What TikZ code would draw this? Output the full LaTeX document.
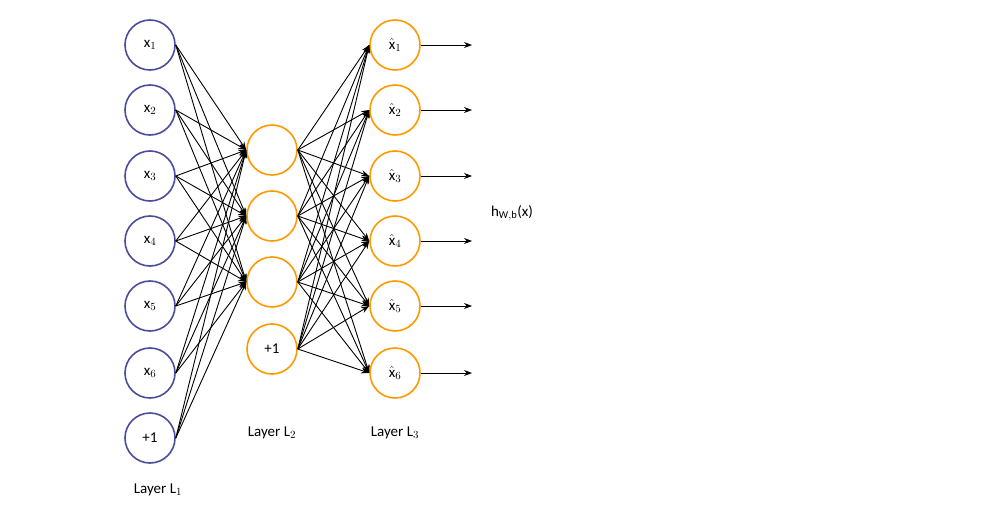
\documentclass[tikz,border=0pt]{standalone}
\usepackage{fontspec}
\setmainfont{Carlito}
\usetikzlibrary{arrows.meta}
\begin{document}
\begin{tikzpicture}[x=1pt,y=-1pt,
  inn/.style={circle,draw=blue!45!black!70,line width=1.6pt,minimum size=50pt,inner sep=0pt,font=\fontsize{15}{17}\selectfont},
  hid/.style={circle,draw=orange!80!yellow,line width=1.6pt,minimum size=50pt,inner sep=0pt,font=\fontsize{15}{17}\selectfont},
  con/.style={-{Stealth[length=8pt,width=6pt]},line width=0.9pt},
  lab/.style={font=\fontsize{15}{17}\selectfont}]
\useasboundingbox (0,0) rectangle (982,524);
\foreach \i/\y in {1/45,2/110,3/176,4/241,5/306,6/373}
  \node[inn] (a\i) at (150,\y) {x$_{\i}$};
\node[inn] (a7) at (150,438) {+1};
\foreach \i/\y in {1/150,2/216,3/282}
  \node[hid] (b\i) at (272,\y) {};
\node[hid] (b4) at (272,349) {+1};
\foreach \i/\y in {1/45,2/110,3/176,4/241,5/306,6/373}{
  \node[hid] (c\i) at (395,\y) {$\hat{\mathrm{x}}_{\i}$};
  \coordinate (o\i) at (472,\y);
  \draw[con] (c\i) -- (o\i);}
\foreach \i in {1,...,7}
  \foreach \j in {1,2,3}
    \draw[con] (a\i.east) -- (b\j.west);
\foreach \i in {1,...,4}
  \foreach \j in {1,...,6}
    \draw[con] (b\i.east) -- (c\j.west);
\node[lab] (h) at (512,213) {h$_{\mathrm{W,b}}$(x)};
\node[lab] (l1) at (158,490) {Layer L$_1$};
\node[lab] (l2) at (272,433) {Layer L$_2$};
\node[lab] (l3) at (395,433) {Layer L$_3$};
\end{tikzpicture}
\end{document}
